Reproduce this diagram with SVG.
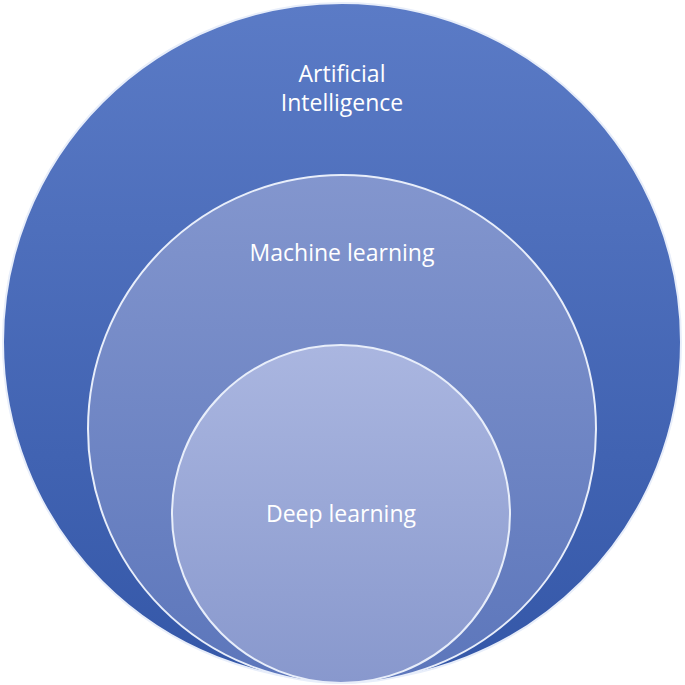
<svg xmlns="http://www.w3.org/2000/svg" width="685" height="685" viewBox="0 0 685 685">
<defs>
<linearGradient id="g1" x1="0" y1="0" x2="0" y2="1"><stop offset="0" stop-color="#5b7bc6"/><stop offset="1" stop-color="#3457a8"/></linearGradient>
<linearGradient id="g2" x1="0" y1="0" x2="0" y2="1"><stop offset="0" stop-color="#8396ce"/><stop offset="1" stop-color="#5c76bb"/></linearGradient>
<linearGradient id="g3" x1="0" y1="0" x2="0" y2="1"><stop offset="0" stop-color="#aab6e0"/><stop offset="1" stop-color="#8898cd"/></linearGradient>
<style>text{font-family:"Open Sans","Liberation Sans",sans-serif;font-size:23px;fill:#fff;text-anchor:middle}circle{stroke:#e8eefa;stroke-width:2}</style>
</defs>
<g id="ai"><circle cx="342" cy="342" r="339" fill="url(#g1)"/><text x="342" y="82">Artificial</text><text x="342" y="111">Intelligence</text></g>
<g id="ml"><circle cx="342" cy="429" r="254" fill="url(#g2)"/><text x="342" y="261">Machine learning</text></g>
<g id="dl"><circle cx="341" cy="514" r="169" fill="url(#g3)"/><text x="341" y="522">Deep learning</text></g>
<g id="connectors"/>
</svg>
